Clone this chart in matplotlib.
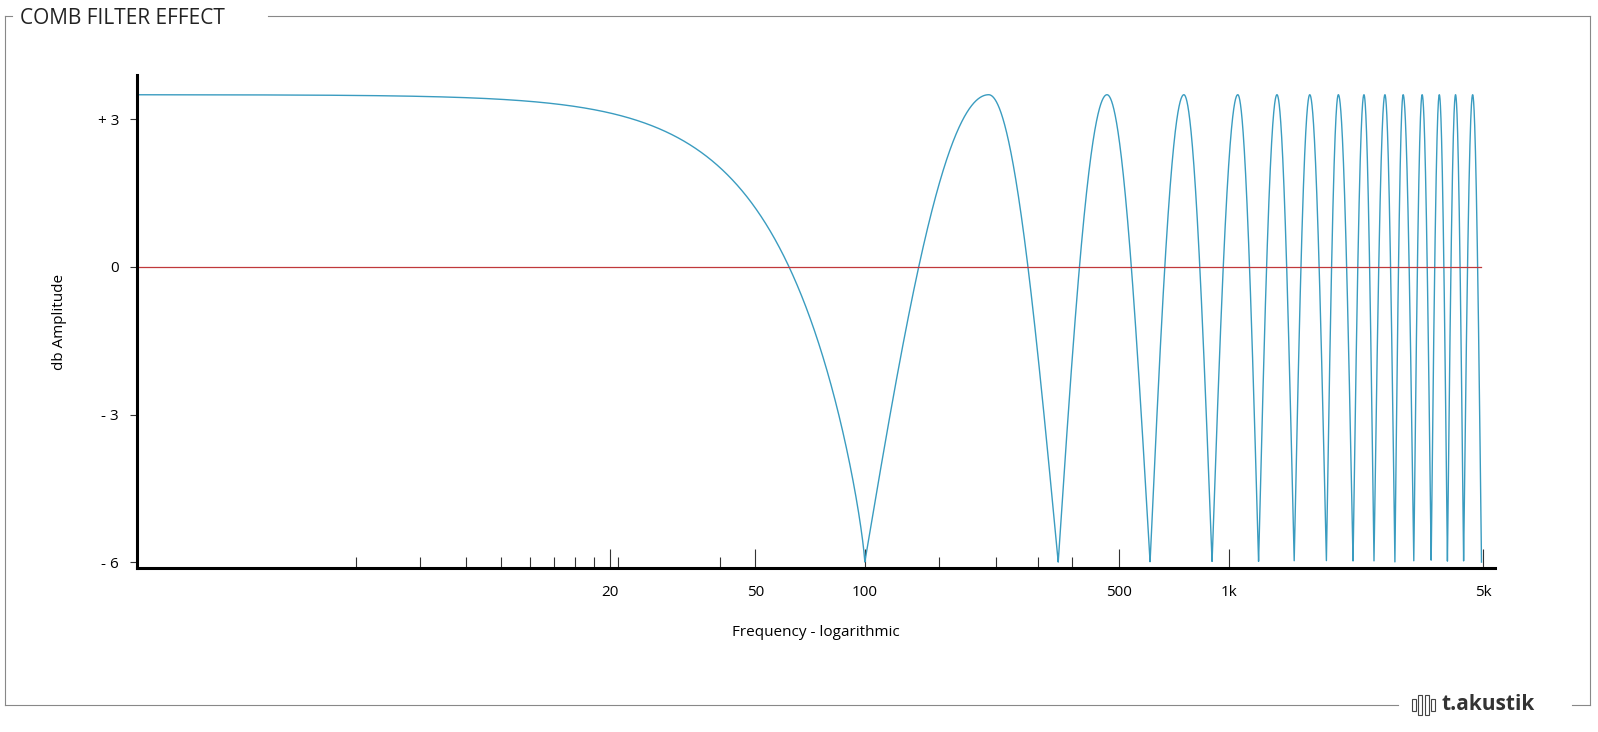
import numpy as np
import matplotlib.pyplot as plt
from matplotlib.lines import Line2D
from matplotlib.patches import Rectangle

plt.rcParams['font.family'] = ['Open Sans', 'DejaVu Sans']

# notch (dip to -6) and peak frequencies in Hz
notches = [100, 340, 608, 900, 1208, 1513, 1855, 2196, 2507, 2862, 3225, 3600, 3990, 4420, 4950]
peaks = [219, 463, 753, 1059, 1357, 1670, 2001, 2353, 2687, 3015, 3400, 3790, 4200, 4680]
low_level = 3.5      # dB plateau at the low end
floor = -6.0

ytick_vals = [3, 0, -3, -6]
ytick_labels = ['+ 3', '0', '- 3', '- 6']
xtick_vals = [20, 50, 100, 500, 1000, 5000]
xtick_labels = ['20', '50', '100', '500', '1k', '5k']
minor_ticks = [4, 6, 8, 10, 12, 14, 16, 18, 21, 40, 160, 230, 300, 370]


def response(f):
    # first lobe: falls from plateau to first notch (linear in f)
    out = np.empty_like(f)
    m = f <= notches[0]
    c = np.clip(np.cos(np.pi / 2 * f[m] / notches[0]), 0, 1)
    out[m] = floor + (low_level - floor) * c ** 0.8
    # later lobes: notch -> peak -> notch, interpolated in log f
    for i, pk in enumerate(peaks):
        a, b = notches[i], notches[i + 1]
        m = (f > a) & (f <= b)
        lf = np.log(f[m])
        u = np.where(f[m] <= pk,
                     (np.log(pk) - lf) / (np.log(pk) - np.log(a)),
                     (lf - np.log(pk)) / (np.log(b) - np.log(pk)))
        out[m] = floor + (low_level - floor) * np.cos(np.pi / 2 * u)
    return out


fig = plt.figure(figsize=(15.98, 7.32), dpi=100)
ax = fig.add_axes([0.0857, 0.224, 0.85, 0.6735])

f = np.geomspace(1, notches[-1], 20000)
ax.plot(f, response(f), color='#3a9cc0', lw=1.0)
ax.plot([1, notches[-1]], [0, 0], color='#c0393b', lw=0.9)

ax.set_xscale('log')
ax.set_xlim(1, 5400)
ax.set_ylim(-6.12, 3.9)

ax.set_yticks(ytick_vals)
ax.set_yticklabels(ytick_labels, fontsize=11)
ax.set_xticks(xtick_vals)
ax.set_xticklabels(xtick_labels, fontsize=11)
ax.set_xticks(minor_ticks, minor=True)
ax.xaxis.set_minor_formatter(plt.NullFormatter())
ax.tick_params(axis='x', which='major', direction='in', length=14, width=0.8, pad=12, color='#333333')
ax.tick_params(axis='x', which='minor', direction='in', length=8, width=0.8, color='#333333')
ax.tick_params(axis='y', direction='out', length=5, width=0.8, pad=8, color='#333333')

for s in ['top', 'right']:
    ax.spines[s].set_visible(False)
ax.spines['left'].set_linewidth(2.2)
ax.spines['bottom'].set_linewidth(2.2)

ax.set_xlabel('Frequency - logarithmic', fontsize=11, labelpad=18)
ax.set_ylabel('db Amplitude', fontsize=11, labelpad=22)

# frame around the whole graphic
gray = '#888888'
W, H = 1598, 732
def px(x, y):
    return x / W, 1 - y / H
for (x0, y0), (x1, y1) in [((5, 16), (12, 16)), ((268, 16), (1590, 16)),
                           ((1590, 16), (1590, 705)), ((5, 16), (5, 705)),
                           ((5, 705), (1398, 705)), ((1572, 705), (1590, 705))]:
    a, b = px(x0, y0), px(x1, y1)
    fig.add_artist(Line2D([a[0], b[0]], [a[1], b[1]], color=gray, lw=0.8))

fig.text(*px(20, 18), 'COMB FILTER EFFECT', fontsize=15, va='center', ha='left', color='#222222')

# logo
for x, w, h in [(1412, 4, 12), (1418, 4, 20), (1425, 4, 20), (1431, 4, 12)]:
    r = Rectangle(px(x, 705 + h / 2), w / W, h / H, fill=False, ec='#444444', lw=0.8,
                  transform=fig.transFigure)
    fig.add_artist(r)
fig.text(*px(1442, 704), 't.akustik', fontsize=15, fontweight='bold', va='center', ha='left',
         color='#333333')

fig.savefig('out.png', dpi=100)
